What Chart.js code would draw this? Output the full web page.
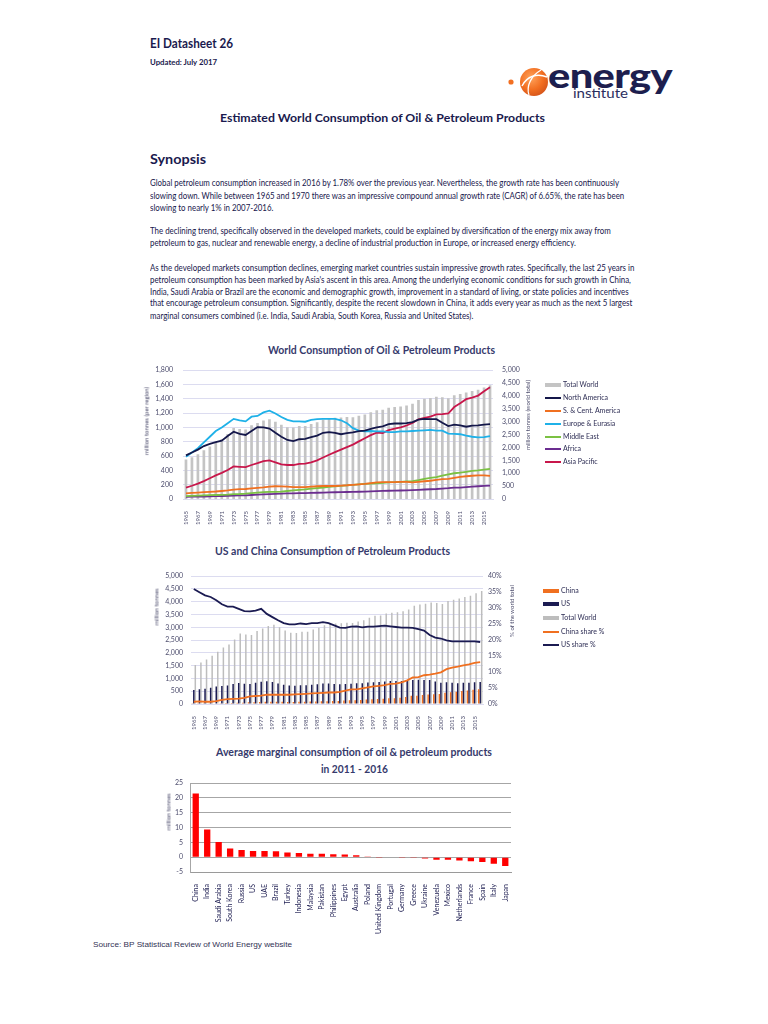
<!DOCTYPE html>
<html>
<head>
<meta charset="utf-8">
<script src="https://cdn.jsdelivr.net/npm/chart.js@4.4.1/dist/chart.umd.min.js"></script>
<style>
body { margin: 0; width: 768px; height: 1024px; background: #fff; position: relative; overflow: hidden; font-family: Lato, 'Open Sans', sans-serif; color: #1c1c50; }
.abs { position: absolute; white-space: nowrap; transform-origin: 0 50%; }
.line { position: absolute; left: 150px; font-size: 8.5px; line-height: 12px; height: 12px; white-space: nowrap; transform-origin: 0 50%; color: #17174c; }
.ctitle { position: absolute; font-size: 11px; font-weight: bold; line-height: 14px; color: #363a6c; white-space: nowrap; transform-origin: 0 50%; }
.vtitle { position: absolute; font-size: 6px; color: #4e4e6e; white-space: nowrap; transform: translate(-50%, -50%) rotate(-90deg); }
canvas { position: absolute; }
.leg { position: absolute; font-size: 7px; color: #2e2e55; white-space: nowrap; line-height: 10px; }
.leg span.sw { display: inline-block; vertical-align: middle; margin-right: 2px; }
</style>
</head>
<body>

<!-- header -->
<div class="abs" id="h1" style="left:150px;top:36px;font-size:12.5px;font-weight:bold;line-height:16px;color:#1a1a4e">EI Datasheet 26</div>
<div class="abs" id="h2" style="left:150px;top:57px;font-size:7px;font-weight:bold;line-height:10px;color:#1a1a4e">Updated: July 2017</div>

<svg style="position:absolute;left:505px;top:64px" width="50" height="36" viewBox="0 0 50 36">
  <defs>
    <radialGradient id="g" cx="40%" cy="35%" r="70%">
      <stop offset="0" stop-color="#ffa35c"/>
      <stop offset="0.6" stop-color="#f26f21"/>
      <stop offset="1" stop-color="#d4541a"/>
    </radialGradient>
  </defs>
  <circle cx="6" cy="18" r="2.6" fill="#f26f21"/>
  <circle cx="29" cy="18" r="14" fill="url(#g)"/>
  <path d="M17 22 C 22 12, 32 9, 42 13" stroke="#fff" stroke-width="1.4" fill="none"/>
  <path d="M24 31 C 21 22, 26 12, 36 6" stroke="#fff" stroke-width="1.2" fill="none"/>
</svg>
<div class="abs" id="logo1" style="left:548px;top:58px;font-size:34px;line-height:34px;font-weight:900;color:#1d1e4e;letter-spacing:-0.5px">energy</div>
<div class="abs" id="logo2" style="left:573px;top:86px;font-size:13px;line-height:14px;color:#2a2d5e">institute</div>

<div class="abs" id="mainTitle" style="left:220px;top:111px;font-size:11px;font-weight:bold;line-height:14px;color:#1a1a4e">Estimated World Consumption of Oil &amp; Petroleum Products</div>
<div class="abs" id="syn" style="left:150px;top:152px;font-size:12.5px;font-weight:bold;line-height:16px;color:#1a1a4e">Synopsis</div>

<div class="line" style="top:177px">Global petroleum consumption increased in 2016 by 1.78% over the previous year. Nevertheless, the growth rate has been continuously</div>
<div class="line" style="top:190px">slowing down. While between 1965 and 1970 there was an impressive compound annual growth rate (CAGR) of 6.65%, the rate has been</div>
<div class="line" style="top:202px">slowing to nearly 1% in 2007-2016.</div>
<div class="line" style="top:225px">The declining trend, specifically observed in the developed markets, could be explained by diversification of the energy mix away from</div>
<div class="line" style="top:237px">petroleum to gas, nuclear and renewable energy, a decline of industrial production in Europe, or increased energy efficiency.</div>
<div class="line" style="top:262px">As the developed markets consumption declines, emerging market countries sustain impressive growth rates. Specifically, the last 25 years in</div>
<div class="line" style="top:274px">petroleum consumption has been marked by Asia's ascent in this area. Among the underlying economic conditions for such growth in China,</div>
<div class="line" style="top:286px">India, Saudi Arabia or Brazil are the economic and demographic growth, improvement in a standard of living, or state policies and incentives</div>
<div class="line" style="top:297px">that encourage petroleum consumption. Significantly, despite the recent slowdown in China, it adds every year as much as the next 5 largest</div>
<div class="line" style="top:310px">marginal consumers combined (i.e. India, Saudi Arabia, South Korea, Russia and United States).</div>

<!-- chart 1 -->
<div class="ctitle" id="t1" style="left:268px;top:343px">World Consumption of Oil &amp; Petroleum Products</div>
<canvas id="chart1" width="400" height="186" style="left:140px;top:356px"></canvas>
<div class="vtitle" style="left:146px;top:421px">million tonnes (per region)</div>
<div class="vtitle" style="left:527px;top:415px">million tonnes (world total)</div>
<div id="legend1"></div>

<!-- chart 2 -->
<div class="ctitle" id="t2" style="left:215px;top:544px">US and China Consumption of Petroleum Products</div>
<canvas id="chart2" width="400" height="176" style="left:140px;top:564px"></canvas>
<div class="vtitle" style="left:156px;top:607px">million tonnes</div>
<div class="vtitle" style="left:511px;top:611px">% of the world total</div>
<div id="legend2"></div>

<!-- chart 3 -->
<div class="ctitle" id="t3a" style="left:216px;top:745px">Average marginal consumption of oil &amp; petroleum products</div>
<div class="ctitle" id="t3b" style="left:321px;top:762px">in 2011 - 2016</div>
<canvas id="chart3" width="360" height="168" style="left:160px;top:772px"></canvas>
<div class="vtitle" style="left:168px;top:812px">million tonnes</div>

<div class="abs" id="src" style="left:93px;top:940px;font-family:'Liberation Sans',Arial,sans-serif;font-size:7.5px;line-height:10px;color:#333355">Source: BP Statistical Review of World Energy website</div>

<script>
// categories
const years = ['1965','1966','1967','1968','1969','1970','1971','1972','1973','1974',
    '1975','1976','1977','1978','1979','1980','1981','1982','1983','1984',
    '1985','1986','1987','1988','1989','1990','1991','1992','1993','1994',
    '1995','1996','1997','1998','1999','2000','2001','2002','2003','2004',
    '2005','2006','2007','2008','2009','2010','2011','2012','2013','2014',
    '2015','2016'];

// million tonnes, world total
const totalWorld = [1530,1620,1740,1890,2040,2210,2330,2520,2760,2720,
    2700,2860,2950,3050,3100,3000,2880,2790,2780,2830,
    2830,2910,2980,3080,3130,3150,3160,3180,3170,3230,
    3280,3370,3450,3460,3540,3570,3590,3630,3700,3840,
    3890,3920,3970,3950,3910,4030,4080,4130,4190,4240,
    4330,4420];

// million tonnes per region
const northAmerica = [610,650,690,740,770,795,815,880,940,910,
    895,950,1005,1000,985,925,870,825,810,835,
    840,865,885,925,935,925,905,920,930,950,
    955,980,1000,1015,1045,1055,1055,1060,1075,1110,
    1120,1115,1115,1065,1020,1040,1030,1010,1025,1030,
    1040,1045];
const southCentAmerica = [80,85,90,95,100,105,112,120,132,137,
    140,148,155,162,172,178,176,172,165,165,
    165,172,178,182,182,182,188,192,198,205,
    212,222,232,237,237,237,240,238,232,240,
    248,255,268,278,280,295,308,318,325,330,
    330,322];
const europeEurasia = [590,650,710,790,870,950,1000,1060,1120,1100,
    1085,1150,1160,1210,1235,1195,1145,1105,1085,1085,
    1080,1105,1115,1120,1120,1120,1100,1060,990,955,
    945,950,945,945,935,935,945,945,950,955,
    960,965,955,955,915,910,905,885,870,860,
    865,880];
const middleEast = [40,43,46,50,53,56,58,62,68,70,
    75,82,88,95,100,100,103,112,120,128,
    135,145,152,160,168,175,182,190,198,205,
    210,215,220,226,232,235,240,245,250,265,
    282,295,305,325,345,360,368,380,392,400,
    410,420];
const africa = [30,32,33,35,37,40,42,45,48,50,
    52,56,60,64,68,72,75,78,80,82,
    83,85,87,89,92,94,96,98,99,101,
    104,107,110,113,115,117,119,121,124,128,
    133,136,140,146,152,160,160,167,174,178,
    183,186];
const asiaPacific = [160,185,215,250,290,330,365,405,455,450,
    445,475,500,528,540,512,485,475,475,492,
    495,512,540,580,618,655,690,725,760,805,
    850,893,928,920,962,985,1000,1027,1062,1115,
    1135,1150,1182,1185,1195,1285,1338,1395,1418,1445,
    1505,1560];

// US and China, million tonnes
const china = [11,13,12,13,18,28,35,40,48,53,
    64,71,77,88,90,88,84,81,83,87,
    90,95,100,107,112,113,121,133,147,150,
    160,175,190,198,209,224,229,247,272,318,
    327,351,367,377,388,441,464,484,507,526,
    560,579];
const us = [550,580,600,640,680,700,720,780,820,790,
    780,830,870,890,860,800,750,720,715,730,
    730,750,770,800,800,780,770,780,790,810,
    810,840,850,860,880,900,900,900,910,940,
    950,940,940,880,830,850,835,815,830,835,
    850,860];
// share of world total, %
const chinaShare = [0.7,0.8,0.7,0.7,0.9,1.3,1.5,1.6,1.7,1.9,
    2.4,2.5,2.6,2.9,2.9,2.9,2.9,2.9,3.0,3.1,
    3.2,3.3,3.4,3.5,3.6,3.6,3.8,4.2,4.6,4.6,
    4.9,5.2,5.5,5.7,5.9,6.3,6.4,6.8,7.4,8.3,
    8.4,9.0,9.2,9.5,9.9,10.9,11.4,11.7,12.1,12.4,
    12.9,13.1];
const usShare = [36.0,35.0,34.0,33.5,32.5,31.2,30.5,30.5,29.8,29.1,
    29.0,29.2,29.8,28.2,27.2,26.2,25.3,24.9,24.9,25.2,
    25.0,25.3,25.3,25.6,25.3,24.6,23.9,23.8,24.2,24.3,
    24.0,24.2,24.2,24.4,24.5,24.3,24.1,23.9,23.9,23.8,
    23.4,23.0,21.6,20.8,20.5,19.9,19.6,19.6,19.6,19.6,
    19.6,19.4];

// average marginal consumption 2011-2016, million tonnes
const countries = ['China','India','Saudi Arabia','South Korea','Russia','US','UAE','Brazil','Turkey','Indonesia',
    'Malaysia','Pakistan','Philippines','Egypt','Australia','Poland','United Kingdom','Portugal','Germany','Greece',
    'Ukraine','Venezuela','Mexico','Netherlands','France','Spain','Italy','Japan'];
const marginal = [21.5,9.4,5.1,2.9,2.4,2.1,2.1,2.0,1.6,1.4,
    1.2,1.2,1.0,0.9,0.7,0.1,-0.1,-0.15,-0.3,-0.3,
    -0.4,-0.9,-0.9,-1.1,-1.4,-1.6,-2.2,-3.0];

Chart.defaults.font.family = 'Lato';
Chart.defaults.animation = false;
Chart.defaults.plugins.legend.display = false;
Chart.defaults.plugins.tooltip.enabled = false;

const tickColor = '#4e4e6e';
const lavender = '#dcdcf0';

function everyOther(v, i) {
    return i % 2 === 0 ? this.getLabelForValue(v) : '';
}

function lineSet(label, data, color, axis) {
    return {
        type: 'line', label: label, data: data, borderColor: color, backgroundColor: color,
        borderWidth: 1.8, pointRadius: 0, yAxisID: axis, order: 0
    };
}

new Chart(document.getElementById('chart1'), {
    type: 'bar',
    data: {
        labels: years,
        datasets: [
            lineSet('North America', northAmerica, '#14174a', 'y'),
            lineSet('S. & Cent. America', southCentAmerica, '#f07020', 'y'),
            lineSet('Europe & Eurasia', europeEurasia, '#1fb1e8', 'y'),
            lineSet('Middle East', middleEast, '#7bc143', 'y'),
            lineSet('Africa', africa, '#6b2d90', 'y'),
            lineSet('Asia Pacific', asiaPacific, '#c8174b', 'y'),
            {
                type: 'bar', label: 'Total World', data: totalWorld, backgroundColor: '#c4c4c4',
                yAxisID: 'y1', order: 1, barPercentage: 1, categoryPercentage: 0.45
            }
        ]
    },
    options: {
        responsive: false,
        layout: { padding: { top: 9 } },
        scales: {
            x: {
                grid: { display: false },
                border: { color: lavender },
                ticks: { autoSkip: false, minRotation: 90, maxRotation: 90, padding: 4, color: tickColor, font: { size: 6 }, callback: everyOther },
                afterFit: function (s) { s.height = 43; }
            },
            y: {
                position: 'left', min: 0, max: 1800,
                ticks: { stepSize: 200, padding: 10, color: tickColor, font: { size: 7 } },
                grid: { color: lavender, drawTicks: false },
                border: { display: false },
                afterFit: function (s) { s.width = 43; }
            },
            y1: {
                position: 'right', min: 0, max: 5000,
                ticks: { stepSize: 500, padding: 9, color: tickColor, font: { size: 7 } },
                grid: { display: false, drawTicks: false },
                border: { display: false },
                afterFit: function (s) { s.width = 47; }
            }
        }
    }
});

new Chart(document.getElementById('chart2'), {
    type: 'bar',
    data: {
        labels: years,
        datasets: [
            { label: 'China', data: china, backgroundColor: '#f07020', yAxisID: 'y', order: 1, barPercentage: 1, categoryPercentage: 0.8 },
            { label: 'US', data: us, backgroundColor: '#1b1b52', yAxisID: 'y', order: 1, barPercentage: 1, categoryPercentage: 0.8 },
            { label: 'Total World', data: totalWorld, backgroundColor: '#bdbdbd', yAxisID: 'y', order: 1, barPercentage: 1, categoryPercentage: 0.8 },
            lineSet('China share %', chinaShare, '#f07020', 'y1'),
            lineSet('US share %', usShare, '#1b1b52', 'y1')
        ]
    },
    options: {
        responsive: false,
        layout: { padding: { top: 8 } },
        scales: {
            x: {
                grid: { display: false },
                border: { color: lavender },
                ticks: { autoSkip: false, minRotation: 90, maxRotation: 90, padding: 4, color: tickColor, font: { size: 6 }, callback: everyOther },
                afterFit: function (s) { s.height = 36; }
            },
            y: {
                position: 'left', min: 0, max: 5000,
                ticks: { stepSize: 500, padding: 8, color: tickColor, font: { size: 7 } },
                grid: { color: lavender, drawTicks: false },
                border: { display: false },
                afterFit: function (s) { s.width = 51; }
            },
            y1: {
                position: 'right', min: 0, max: 40,
                ticks: { stepSize: 5, padding: 5, color: tickColor, font: { size: 7 }, callback: function (v) { return v + '%'; } },
                grid: { display: false, drawTicks: false },
                border: { display: false },
                afterFit: function (s) { s.width = 57; }
            }
        }
    }
});

new Chart(document.getElementById('chart3'), {
    type: 'bar',
    data: {
        labels: countries,
        datasets: [
            { label: 'Marginal consumption', data: marginal, backgroundColor: '#ff0000', barPercentage: 1, categoryPercentage: 0.55 }
        ]
    },
    options: {
        responsive: false,
        layout: { padding: { top: 8, right: 9 } },
        scales: {
            x: {
                grid: { display: false },
                border: { color: '#9a9a9a' },
                ticks: { autoSkip: false, minRotation: 90, maxRotation: 90, padding: 4, color: '#1c1c50', font: { size: 7 } },
                afterFit: function (s) { s.height = 68; }
            },
            y: {
                min: -5, max: 25,
                ticks: { stepSize: 5, padding: 7, color: tickColor, font: { size: 7 } },
                grid: { color: '#a6a6a6', drawTicks: false },
                border: { color: '#a6a6a6' },
                afterFit: function (s) { s.width = 30; }
            }
        }
    }
});

// html legends
function legend(id, left, items) {
    let html = '';
    items.forEach(function (it) {
        html += '<div class="leg" style="left:' + left + 'px;top:' + (it.y - 5) + 'px">' +
            '<span class="sw" style="width:16px;height:' + it.h + 'px;background:' + it.c + '"></span>' + it.t + '</div>';
    });
    document.getElementById(id).innerHTML = html;
}
legend('legend1', 545, [
    { t: 'Total World', c: '#c4c4c4', h: 4, y: 384 },
    { t: 'North America', c: '#14174a', h: 2, y: 397 },
    { t: 'S. &amp; Cent. America', c: '#f07020', h: 2, y: 410 },
    { t: 'Europe &amp; Eurasia', c: '#1fb1e8', h: 2, y: 423 },
    { t: 'Middle East', c: '#7bc143', h: 2, y: 436 },
    { t: 'Africa', c: '#6b2d90', h: 2, y: 448 },
    { t: 'Asia Pacific', c: '#c8174b', h: 1.5, y: 461 }
]);
legend('legend2', 543, [
    { t: 'China', c: '#f07020', h: 4, y: 590 },
    { t: 'US', c: '#1b1b52', h: 4, y: 603 },
    { t: 'Total World', c: '#bdbdbd', h: 4, y: 617 },
    { t: 'China share %', c: '#f07020', h: 2, y: 631 },
    { t: 'US share %', c: '#1b1b52', h: 2, y: 644 }
]);

// squeeze text to the widths of the original
function fit(id, w) {
    const el = document.getElementById(id);
    el.style.transform = 'scaleX(' + (w / el.getBoundingClientRect().width) + ')';
}
fit('h1', 83);
fit('h2', 67);
fit('logo1', 124);
fit('logo2', 55);
fit('mainTitle', 325);
fit('syn', 56);
fit('t1', 227);
fit('t2', 235);
fit('t3a', 276);
fit('t3b', 67);
fit('src', 199);
const lines = document.querySelectorAll('.line');
const k = 469 / lines[0].getBoundingClientRect().width;
lines.forEach(function (el) { el.style.transform = 'scaleX(' + k + ')'; });
</script>
</body>
</html>
